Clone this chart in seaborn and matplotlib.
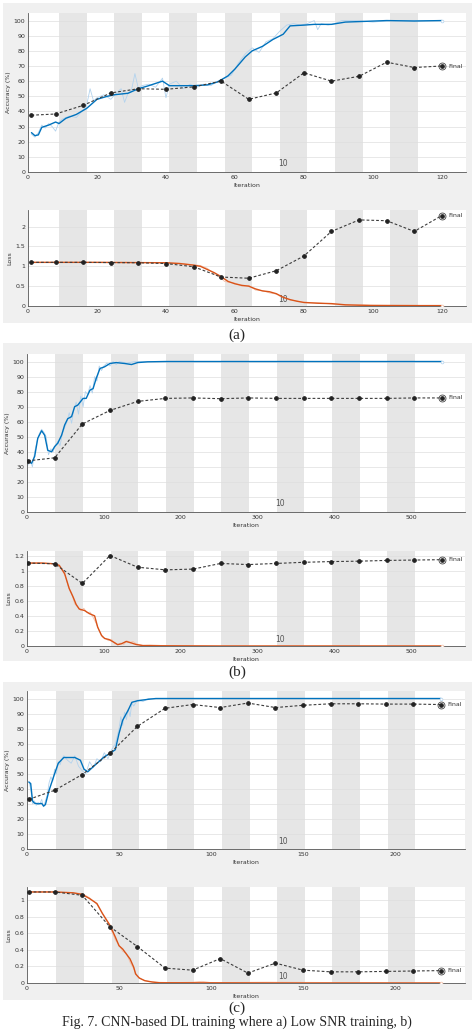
import matplotlib
matplotlib.use("Agg")
import matplotlib.pyplot as plt
import seaborn as sns
from matplotlib.patches import Rectangle
from matplotlib.ticker import FormatStrFormatter

sns.set_style("white")
plt.rcParams["font.family"] = ["DejaVu Sans"]

# ---------------- (a) low SNR ----------------
a_val_it = [1, 8, 16, 24, 32, 40, 48, 56, 64, 72, 80, 88, 96, 104, 112, 120]
a_val_acc = [37.5, 38.3, 44, 52.2, 55, 54.6, 56.2, 60, 48, 52.2, 65.5, 60, 63.2, 72.5, 69, 70]
a_val_loss = [1.10, 1.10, 1.10, 1.095, 1.09, 1.07, 0.99, 0.73, 0.70, 0.89, 1.26, 1.88, 2.17, 2.15, 1.88, 2.28]

a_tr_it = [1, 2, 3, 4, 6, 8, 9, 11, 14, 17, 20, 23, 25, 27, 29, 32, 35, 37, 39, 41, 44, 48, 52, 55,
           58, 60, 63, 65, 68, 71, 74, 76, 80, 83, 88, 92, 98, 104, 112, 120]
a_tr_acc = [26, 24, 24.5, 29.5, 31, 33, 32, 35.5, 38, 42, 48, 50, 51, 51.5, 52, 55, 57, 58.5, 60, 57,
            57, 57, 57.5, 59.5, 63.5, 68, 76, 80, 83, 87.5, 91, 96.5, 97, 97.5, 97.5, 99, 99.5, 100, 99.7, 100]
a_raw_it = [1, 2, 3, 4, 5, 6, 7, 8, 9, 10, 12, 14, 16, 17, 18, 19, 20, 22, 24, 26, 27, 28, 29, 30, 31,
            32, 33, 35, 37, 39, 40, 41, 43, 45, 47, 49, 51, 53, 55, 57, 59, 61, 63, 65, 67, 69, 71, 73,
            75, 77, 79, 81, 83, 84, 85, 87, 89, 91, 95, 100, 105, 110, 115, 120]
a_raw_acc = [25, 23, 26, 31, 29, 32, 30, 27, 33, 35, 37, 36, 41, 44, 55, 47, 49, 51, 48, 53, 55, 46, 52,
             54, 65, 55, 57, 58, 56, 62, 49, 58, 60, 55, 58, 56, 58, 57, 60, 62, 64, 72, 78, 82, 79, 86,
             88, 93, 97, 98, 97, 98, 100, 94, 98, 97, 98, 100, 100, 99, 100, 100, 100, 100]

a_loss_it = [1, 10, 20, 30, 40, 44, 48, 50, 52, 54, 56, 58, 60, 62, 64, 66, 68, 70, 72, 74, 76, 78, 80,
             84, 88, 92, 96, 100, 110, 120]
a_loss = [1.10, 1.10, 1.10, 1.095, 1.09, 1.07, 1.03, 1.0, 0.92, 0.84, 0.74, 0.62, 0.56, 0.52, 0.50, 0.43,
          0.38, 0.36, 0.31, 0.22, 0.16, 0.12, 0.09, 0.07, 0.06, 0.03, 0.02, 0.015, 0.01, 0.01]
a_rawloss_it = [1, 10, 20, 30, 40, 44, 48, 50, 52, 54, 56, 57, 58, 60, 62, 64, 66, 68, 70, 72, 74, 76,
                78, 80, 84, 88, 92, 96, 100, 110, 120]
a_rawloss = [1.10, 1.10, 1.10, 1.10, 1.09, 1.08, 1.04, 1.02, 0.95, 0.80, 0.70, 0.62, 0.60, 0.58, 0.50,
             0.52, 0.40, 0.39, 0.33, 0.30, 0.20, 0.15, 0.13, 0.08, 0.08, 0.05, 0.02, 0.03, 0.01, 0.02, 0.005]

# ---------------- (b) ----------------
b_val_it = [1, 36, 72, 108, 144, 180, 216, 252, 288, 324, 360, 396, 432, 468, 504, 540]
b_val_acc = [34, 36, 58.5, 67.5, 73.5, 75.5, 75.8, 75.3, 75.8, 75.5, 75.5, 75.5, 75.5, 75.5, 75.8, 75.8]
b_val_loss = [1.10, 1.09, 0.83, 1.20, 1.045, 1.01, 1.02, 1.095, 1.08, 1.095, 1.11, 1.12, 1.125, 1.135, 1.14, 1.145]

b_tr_it = [1, 6, 10, 14, 19, 23, 27, 32, 36, 40, 45, 49, 53, 58, 62, 66, 73, 77, 82, 86, 90, 95, 101,
           108, 116, 127, 136, 144, 157, 180, 250, 350, 450, 540]
b_tr_acc = [33.5, 32.4, 37, 49, 54, 51, 41, 40, 43.5, 45.7, 51, 57.8, 62, 63.4, 70, 71, 75.5, 75.5, 81,
            82, 88.7, 95.4, 96.5, 98.7, 99.3, 98.7, 98, 99.3, 99.8, 100, 100, 100, 100, 100]
b_raw_it = [1, 4, 7, 10, 13, 16, 19, 22, 25, 28, 31, 34, 37, 40, 43, 46, 49, 52, 55, 58, 61, 64, 67, 70,
            73, 76, 79, 82, 85, 88, 91, 94, 97, 100, 104, 108, 112, 116, 120, 130, 140, 150, 200, 300, 400, 540]
b_raw_acc = [31, 35, 30, 40, 47, 52, 55, 53, 50, 38, 42, 40, 44, 47, 44, 52, 56, 60, 66, 59, 68, 73, 65,
             77, 70, 80, 78, 84, 79, 90, 87, 97, 94, 97, 99, 97, 100, 98, 100, 99, 100, 100, 100, 100, 100, 100]

b_loss_it = [1, 20, 36, 42, 49, 55, 60, 64, 68, 75, 81, 88, 92, 97, 101, 107, 114, 118, 123, 129, 136,
             142, 151, 172, 250, 350, 450, 540]
b_loss = [1.10, 1.10, 1.09, 1.07, 0.96, 0.76, 0.65, 0.55, 0.49, 0.47, 0.43, 0.40, 0.25, 0.14, 0.10, 0.085,
          0.044, 0.018, 0.03, 0.06, 0.04, 0.02, 0.005, 0.003, 0.0, 0.0, 0.0, 0.0]
b_rawloss_it = [1, 20, 36, 42, 46, 50, 54, 58, 62, 66, 70, 74, 78, 82, 86, 90, 94, 98, 102, 106, 110,
                114, 118, 122, 126, 130, 134, 138, 142, 146, 150, 160, 180, 250, 540]
b_rawloss = [1.10, 1.10, 1.09, 1.06, 1.0, 0.92, 0.78, 0.70, 0.56, 0.52, 0.47, 0.50, 0.44, 0.45, 0.38,
             0.30, 0.20, 0.12, 0.10, 0.07, 0.09, 0.03, 0.02, 0.04, 0.02, 0.07, 0.05, 0.06, 0.03, 0.02,
             0.01, 0.015, 0.005, 0.0, 0.0]

# ---------------- (c) ----------------
c_val_it = [1, 15, 30, 45, 60, 75, 90, 105, 120, 135, 150, 165, 180, 195, 210, 225]
c_val_acc = [33, 39, 49.5, 63.5, 81.5, 93.5, 96, 94, 97, 94, 95.5, 96.5, 96.5, 96.3, 96.3, 96]
c_val_loss = [1.10, 1.10, 1.06, 0.68, 0.44, 0.18, 0.155, 0.295, 0.12, 0.24, 0.155, 0.135, 0.135, 0.14, 0.145, 0.15]

c_tr_it = [1, 2, 3, 4, 6, 8, 9, 10, 12, 15, 17, 20, 26, 29, 31, 33, 37, 42, 45, 48, 50, 52, 55, 57, 60,
           66, 70, 100, 150, 225]
c_tr_acc = [44.5, 43.5, 32, 30.5, 30, 30.3, 28.5, 29.5, 39, 50, 57, 60.8, 60.8, 59, 53, 51.3, 55.8, 61.3,
            63.5, 66, 76.8, 85.6, 92.3, 97.5, 98.5, 99.5, 100, 100, 100, 100]
c_raw_it = [1, 2, 3, 4, 5, 6, 7, 8, 9, 10, 11, 12, 13, 14, 15, 16, 17, 18, 19, 20, 22, 24, 26, 28, 30,
            32, 34, 36, 38, 40, 42, 44, 46, 48, 50, 51, 52, 53, 54, 55, 56, 57, 58, 60, 63, 66, 70, 80,
            100, 150, 225]
c_raw_acc = [45, 40, 30, 32, 29, 31, 30, 33, 28, 32, 36, 44, 48, 45, 53, 50, 58, 56, 60, 62, 59, 57, 62,
             55, 52, 50, 58, 54, 60, 58, 64, 60, 66, 70, 80, 88, 82, 91, 86, 93, 88, 97, 95, 99, 98, 100,
             100, 100, 100, 100, 100]

c_loss_it = [1, 15, 25, 30, 34, 38, 41, 45, 48, 50, 52, 54, 56, 58, 59, 61, 64, 68, 72, 100, 150, 225]
c_loss = [1.10, 1.10, 1.09, 1.07, 1.02, 0.96, 0.84, 0.70, 0.555, 0.45, 0.41, 0.35, 0.29, 0.19, 0.11,
          0.06, 0.028, 0.012, 0.003, 0.002, 0.0, 0.0]
c_rawloss_it = [1, 15, 25, 30, 34, 38, 42, 45, 48, 50, 52, 54, 56, 58, 60, 62, 64, 66, 70, 80, 90, 95,
                100, 130, 225]
c_rawloss = [1.10, 1.10, 1.09, 1.08, 1.03, 0.95, 0.80, 0.68, 0.52, 0.46, 0.38, 0.36, 0.25, 0.17, 0.08,
             0.05, 0.03, 0.02, 0.01, 0.005, 0.01, 0.02, 0.005, 0.01, 0.0]

BLUE, BLUE_RAW = "#0072BD", "#b3d3ee"
ORANGE, ORANGE_RAW = "#D95319", "#f3c2ab"
VAL = "#3c3c3c"
W, H = 474, 1030

fig = plt.figure(figsize=(W / 100, H / 100), dpi=100)
fig.patch.set_facecolor("white")


def px_axes(l, t, r, b):
    return fig.add_axes([l / W, 1 - b / H, (r - l) / W, (b - t) / H])


def style(ax, xlim, xticks, ylim, yticks, ylabel, ipe, fmt, ten_y):
    ax.set_facecolor("white")
    for k in range(1, 15, 2):
        ax.axvspan(k * ipe + 1, (k + 1) * ipe + 1, color="#e6e6e6", lw=0, zorder=0)
    ax.set_xlim(xlim)
    ax.set_ylim(ylim)
    ax.set_xticks(xticks)
    ax.set_yticks(yticks)
    ax.yaxis.set_major_formatter(FormatStrFormatter(fmt))
    ax.grid(axis="y", color="#dedede", lw=0.5)
    ax.set_axisbelow(True)
    for s in ["top", "right"]:
        ax.spines[s].set_visible(False)
    for s in ["left", "bottom"]:
        ax.spines[s].set_color("#555555")
        ax.spines[s].set_linewidth(0.6)
    ax.tick_params(direction="in", length=2, width=0.5, labelsize=4.5, colors="#333333", pad=2)
    ax.set_xlabel("Iteration", fontsize=4.5, labelpad=2, color="#333333")
    ax.set_ylabel(ylabel, fontsize=4.5, labelpad=2, color="#333333")
    ax.text(ten_y[0], ten_y[1], "10", fontsize=5.5, color="#555555", ha="center", va="bottom")


def curves(ax, raw_x, raw_y, sm_x, sm_y, val_x, val_y, c, c_raw):
    sns.lineplot(x=raw_x, y=raw_y, ax=ax, color=c_raw, lw=0.6, estimator=None, sort=False, zorder=2)
    sns.lineplot(x=sm_x, y=sm_y, ax=ax, color=c, lw=1.0, estimator=None, sort=False, zorder=3)
    ax.plot(sm_x[-1], sm_y[-1], "o", ms=2, mfc="white", mec=c_raw, mew=0.5, zorder=3)
    sns.lineplot(x=val_x, y=val_y, ax=ax, color=VAL, lw=0.8, ls=(0, (2.5, 1.8)), marker="o", ms=2.6,
                 mec="#222222", mfc="#222222", estimator=None, sort=False, zorder=4)
    ax.plot(val_x[-1], val_y[-1], "o", ms=5, mfc="none", mec="#444444", mew=0.6, zorder=5)
    ax.annotate("Final", xy=(val_x[-1], val_y[-1]), xytext=(4.5, 0), textcoords="offset points",
                va="center", ha="left", fontsize=4.5, color="#333333")


panels = [
    dict(top=3, bot=323, acc=(28, 13, 466, 172), loss=(28, 210, 466, 306), lab=335, name="(a)",
         xlim=(0, 127), xt=[0, 20, 40, 60, 80, 100, 120], ipe=8,
         raw=(a_raw_it, a_raw_acc), sm=(a_tr_it, a_tr_acc), val=(a_val_it, a_val_acc, a_val_loss),
         rl=(a_rawloss_it, a_rawloss), sl=(a_loss_it, a_loss),
         lylim=(0, 2.42), lyt=[0, 0.5, 1, 1.5, 2], ten=74, ten_acc=2.5, ten_loss=0.04),
    dict(top=343, bot=661, acc=(27, 354, 465, 512), loss=(27, 551, 465, 646), lab=672, name="(b)",
         xlim=(0, 570), xt=[0, 100, 200, 300, 400, 500], ipe=36,
         raw=(b_raw_it, b_raw_acc), sm=(b_tr_it, b_tr_acc), val=(b_val_it, b_val_acc, b_val_loss),
         rl=(b_rawloss_it, b_rawloss), sl=(b_loss_it, b_loss),
         lylim=(0, 1.26), lyt=[0, 0.2, 0.4, 0.6, 0.8, 1, 1.2], ten=329, ten_acc=2.5, ten_loss=0.03),
    dict(top=682, bot=1000, acc=(27, 691, 465, 849), loss=(27, 887, 465, 983), lab=1008, name="(c)",
         xlim=(0, 238), xt=[0, 50, 100, 150, 200], ipe=15,
         raw=(c_raw_it, c_raw_acc), sm=(c_tr_it, c_tr_acc), val=(c_val_it, c_val_acc, c_val_loss),
         rl=(c_rawloss_it, c_rawloss), sl=(c_loss_it, c_loss),
         lylim=(0, 1.16), lyt=[0, 0.2, 0.4, 0.6, 0.8, 1], ten=139, ten_acc=2.2, ten_loss=0.025),
]

for p in panels:
    fig.patches.append(Rectangle((3 / W, 1 - p["bot"] / H), 469 / W, (p["bot"] - p["top"]) / H,
                                 transform=fig.transFigure, facecolor="#f0f0f0", edgecolor="none", zorder=-1))
    ax1 = px_axes(*p["acc"])
    style(ax1, p["xlim"], p["xt"], (0, 105), range(0, 101, 10), "Accuracy (%)", p["ipe"], "%g",
          (p["ten"], p["ten_acc"]))
    curves(ax1, *p["raw"], *p["sm"], p["val"][0], p["val"][1], BLUE, BLUE_RAW)

    ax2 = px_axes(*p["loss"])
    style(ax2, p["xlim"], p["xt"], p["lylim"], p["lyt"], "Loss", p["ipe"], "%g", (p["ten"], p["ten_loss"]))
    curves(ax2, *p["rl"], *p["sl"], p["val"][0], p["val"][2], ORANGE, ORANGE_RAW)

    fig.text(237 / W, 1 - p["lab"] / H, p["name"], ha="center", va="center", fontsize=11,
             family="Liberation Serif")

fig.text(237 / W, 1 - 1029 / H, "Fig. 7. CNN-based DL training where a) Low SNR training, b)",
         ha="center", va="bottom", fontsize=10, family="Liberation Serif")

fig.savefig("out.png", dpi=100, facecolor="white")
